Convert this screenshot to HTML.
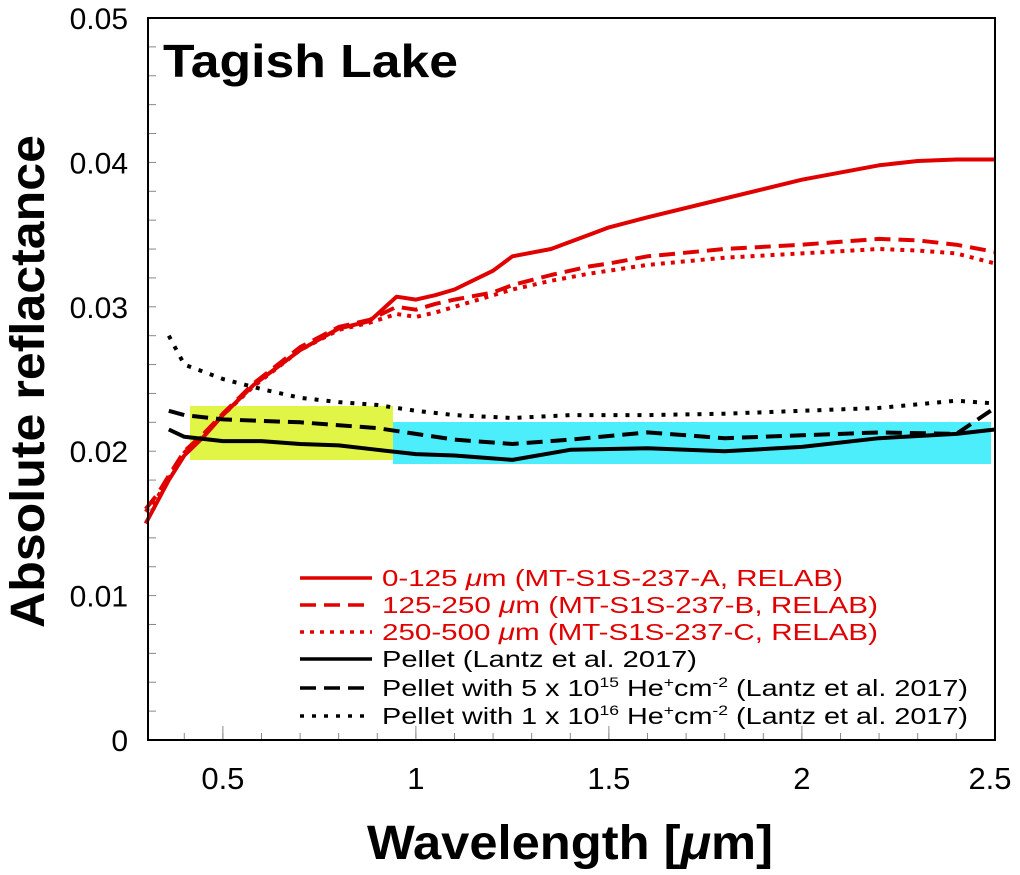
<!DOCTYPE html>
<html><head><meta charset="utf-8"><style>
body{margin:0;background:#fff}
svg text{font-family:"Liberation Sans",sans-serif}
</style></head><body>
<svg id="chart" width="1020" height="870" xmlns="http://www.w3.org/2000/svg">
<rect x="190" y="406" width="203" height="54" fill="#e0f545"/>
<rect x="393" y="422" width="598" height="42" fill="#4ceefc"/>
<g id="ticks"></g>
<g id="series"></g>
<rect x="148" y="18" width="847" height="722" fill="none" stroke="#000" stroke-width="2"/>
<text x="163" y="77" font-size="46" font-weight="bold" textLength="295" lengthAdjust="spacingAndGlyphs">Tagish Lake</text>
<text x="367" y="859" font-size="48" font-weight="bold" textLength="406" lengthAdjust="spacingAndGlyphs">Wavelength [<tspan font-style="italic">μ</tspan>m]</text>
<text transform="translate(44,628) rotate(-90)" font-size="48" font-weight="bold" textLength="493" lengthAdjust="spacingAndGlyphs">Absolute reflactance</text>
<g id="legend" font-size="23"></g>
</svg>
<script>
const xTicks=[0.5,1,1.5,2,2.5];
const xTickLabels=["0.5","1","1.5","2","2.5"];
const yTicks=[0,0.01,0.02,0.03,0.04,0.05];
const yTickLabels=["0","0.01","0.02","0.03","0.04","0.05"];
const wlRed=[0.3,0.33,0.36,0.4,0.45,0.5,0.58,0.7,0.8,0.88,0.95,1.0,1.05,1.1,1.2,1.25,1.35,1.45,1.5,1.6,1.8,2.0,2.2,2.3,2.4,2.5];
const redSolid=[0.015,0.0165,0.018,0.0197,0.021,0.0225,0.0246,0.027,0.0285,0.029,0.0307,0.0305,0.0308,0.0312,0.0325,0.0335,0.034,0.035,0.0355,0.0362,0.0375,0.0388,0.0398,0.0401,0.0402,0.0402];
const redDashed=[0.016,0.017,0.0183,0.02,0.0212,0.0226,0.0247,0.0272,0.0286,0.0291,0.030,0.0298,0.0302,0.0305,0.031,0.0315,0.0322,0.0328,0.033,0.0335,0.034,0.0343,0.0347,0.0346,0.0343,0.0338];
const redDotted=[0.0158,0.0168,0.0181,0.0199,0.0211,0.0225,0.0245,0.027,0.0284,0.0289,0.0295,0.0293,0.0296,0.030,0.0308,0.0312,0.0318,0.0323,0.0325,0.0329,0.0334,0.0337,0.034,0.0339,0.0337,0.033];
const wlBlack=[0.36,0.4,0.5,0.6,0.7,0.8,0.9,1.0,1.1,1.25,1.4,1.6,1.8,2.0,2.2,2.4,2.5];
const blackSolid=[0.0215,0.021,0.0207,0.0207,0.0205,0.0204,0.0201,0.0198,0.0197,0.0194,0.0201,0.0202,0.0200,0.0203,0.0209,0.0212,0.0215];
const blackDashed=[0.0228,0.0225,0.0222,0.0221,0.022,0.0218,0.0216,0.0212,0.0208,0.0205,0.0208,0.0213,0.0209,0.0211,0.0213,0.0212,0.0230];
const blackDotted=[0.028,0.026,0.025,0.0243,0.0237,0.0234,0.0232,0.0228,0.0225,0.0223,0.0225,0.0225,0.0226,0.0228,0.023,0.0235,0.0233];
const NS="http://www.w3.org/2000/svg";
const X=v=>148+(v-0.306)*386, Y=v=>740-v*14440;
const tg=document.getElementById('ticks'),sg=document.getElementById('series'),lg=document.getElementById('legend');
function mk(t,a,p){const e=document.createElementNS(NS,t);for(const k in a)e.setAttribute(k,a[k]);p.appendChild(e);return e;}
for(let v=0.4;v<2.5;v+=0.1){const l=mk('line',{x1:X(v),x2:X(v),y1:740,y2:733,stroke:'#888','stroke-width':1},tg);

}
xTicks.forEach((v,i)=>{const l=mk('line',{x1:X(v),x2:X(v),y1:740,y2:726,stroke:'#888','stroke-width':1},tg);


const t=mk('text',{x:Math.min(X(v),990),y:789,'font-size':31,'text-anchor':'middle'},tg);t.textContent=xTickLabels[i];

});
for(let v=0.002;v<0.05;v+=0.002){const l=mk('line',{x1:148,x2:156,y1:Y(v),y2:Y(v),stroke:'#888','stroke-width':1},tg);

}
yTicks.forEach((v,i)=>{const t=mk('text',{x:128,y:Y(v)+11,'font-size':30,'text-anchor':'end'},tg);t.textContent=yTickLabels[i];

});
const series=[[wlRed,redSolid,'#e00000','','red-solid-0-125'],[wlRed,redDashed,'#e00000','16 8','red-dashed-125-250'],[wlRed,redDotted,'#e00000','4 6','red-dotted-250-500'],
[wlBlack,blackSolid,'#000','','black-solid-pellet'],[wlBlack,blackDashed,'#000','16 8','black-dashed-5e15'],[wlBlack,blackDotted,'#000','4 8','black-dotted-1e16']];
series.forEach(s=>{const d=s[0].map((w,i)=>(i?'L':'M')+X(w).toFixed(1)+','+Y(s[1][i]).toFixed(1)).join('');
const p=mk('path',{d:d,fill:'none',stroke:s[2],'stroke-width':4,'stroke-dasharray':s[3],'stroke-linejoin':'round'},sg);

});
const legendTexts=[['0-125 <tspan font-style="italic">μ</tspan>m (MT-S1S-237-A, RELAB)',461],['125-250 <tspan font-style="italic">μ</tspan>m (MT-S1S-237-B, RELAB)',496],['250-500 <tspan font-style="italic">μ</tspan>m (MT-S1S-237-C, RELAB)',496],['Pellet (Lantz et al. 2017)',315],['Pellet with 5 x 10<tspan dy="-9" font-size="14">15</tspan><tspan dy="9"> He</tspan><tspan dy="-9" font-size="14">+</tspan><tspan dy="9">cm</tspan><tspan dy="-9" font-size="14">-2</tspan><tspan dy="9"> (Lantz et al. 2017)</tspan>',586],['Pellet with 1 x 10<tspan dy="-9" font-size="14">16</tspan><tspan dy="9"> He</tspan><tspan dy="-9" font-size="14">+</tspan><tspan dy="9">cm</tspan><tspan dy="-9" font-size="14">-2</tspan><tspan dy="9"> (Lantz et al. 2017)</tspan>',586]];
const ly=[578,605,632,659,688,716];
series.forEach((s,i)=>{const l=mk('line',{x1:300,x2:372,y1:ly[i],y2:ly[i],stroke:s[2],'stroke-width':3.5,'stroke-dasharray':s[3]},lg);


const t=mk('text',{x:382,y:ly[i]+8,fill:s[2],textLength:legendTexts[i][1],lengthAdjust:'spacingAndGlyphs'},lg);t.innerHTML=legendTexts[i][0];

});
</script>
</body></html>
